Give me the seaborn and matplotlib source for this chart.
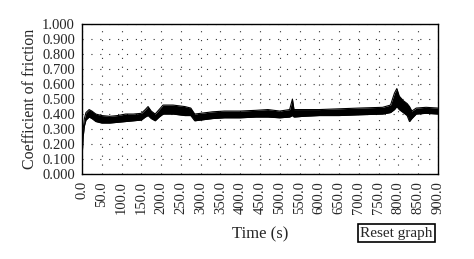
import matplotlib
matplotlib.use("Agg")
import matplotlib.pyplot as plt
import seaborn as sns
import pandas as pd

# Data (band envelope of the friction trace)
time_s = [0, 3, 6, 10, 18, 25, 35, 50, 70, 90, 110, 130, 150, 160, 167, 175, 185,
          195, 205, 230, 260, 275, 285, 300, 330, 360, 400, 440, 470, 500, 525,
          532, 536, 560, 600, 650, 700, 760, 780, 790, 796, 802, 812, 822, 828,
          834, 845, 870, 900]
cof_low = [0.10, 0.25, 0.32, 0.36, 0.38, 0.37, 0.35, 0.34, 0.34, 0.345, 0.35, 0.355,
           0.36, 0.38, 0.39, 0.37, 0.355, 0.38, 0.40, 0.40, 0.39, 0.39, 0.355, 0.36,
           0.37, 0.375, 0.375, 0.38, 0.38, 0.375, 0.38, 0.39, 0.38, 0.385, 0.39,
           0.39, 0.395, 0.40, 0.41, 0.43, 0.45, 0.43, 0.41, 0.39, 0.35, 0.37, 0.40,
           0.405, 0.40]
cof_high = [0.12, 0.30, 0.37, 0.41, 0.43, 0.42, 0.40, 0.39, 0.385, 0.39, 0.40, 0.40,
            0.405, 0.43, 0.45, 0.42, 0.40, 0.43, 0.46, 0.46, 0.45, 0.44, 0.40, 0.405,
            0.415, 0.42, 0.42, 0.425, 0.43, 0.42, 0.43, 0.50, 0.43, 0.43, 0.43,
            0.435, 0.44, 0.445, 0.46, 0.54, 0.57, 0.52, 0.49, 0.47, 0.45, 0.42, 0.44,
            0.445, 0.44]
x_ticks = [i * 50.0 for i in range(19)]
y_ticks = [i / 10 for i in range(11)]

df = pd.DataFrame({"t": time_s, "low": cof_low, "high": cof_high})

sns.set_style("white")
plt.rcParams["font.family"] = ["Liberation Serif", "DejaVu Serif"]

fig = plt.figure(figsize=(4.74, 2.59), dpi=100)
ax = fig.add_axes([0.173, 0.328, 0.751, 0.579])

sns.lineplot(data=df, x="t", y="low", ax=ax, color="black", linewidth=0.8)
sns.lineplot(data=df, x="t", y="high", ax=ax, color="black", linewidth=0.8)
ax.fill_between(df["t"], df["low"], df["high"], color="black", linewidth=0)

ax.set_xlim(0, 900)
ax.set_ylim(0, 1.0)
ax.set_xticks(x_ticks)
ax.set_xticklabels([f"{v:.1f}" for v in x_ticks], rotation=90, fontsize=10.5)
ax.set_yticks(y_ticks)
ax.set_yticklabels([f"{v:.3f}" for v in y_ticks], fontsize=10.5)
ax.tick_params(axis="both", direction="out", length=3, width=0.8, color="black", pad=2)
ax.grid(True, color="#333333", linestyle=(0, (1, 7)), linewidth=0.8)
for s in ax.spines.values():
    s.set_color("black")
    s.set_linewidth(1.0)

ax.set_xlabel("Time (s)", fontsize=12, labelpad=9)
ax.set_ylabel("Coefficient of friction", fontsize=11.5, labelpad=3)

fig.text(0.912, 0.10, "Reset graph", fontsize=11, ha="right", va="center",
         bbox=dict(boxstyle="square,pad=0.15", fc="white", ec="black", lw=1.2))

fig.savefig("out.png", dpi=100)
